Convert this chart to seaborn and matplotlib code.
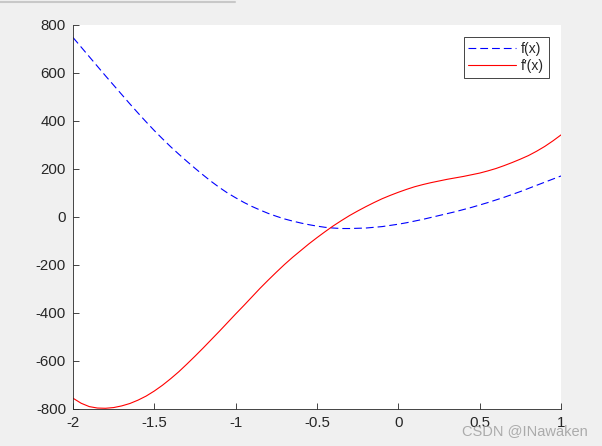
import numpy as np
import matplotlib
matplotlib.use('Agg')
import matplotlib.pyplot as plt
import seaborn as sns
from matplotlib.lines import Line2D

# values, x from -2 to 1 every 0.05
x_vals = [round(-2 + 0.05 * i, 2) for i in range(61)]
f_vals = [748, 708, 668, 628, 588, 549, 510, 471, 433, 396,
          360, 326, 293, 262, 232, 203, 175, 148, 123, 100,
          80, 61, 44, 29, 15, 3, -8, -17, -25, -32,
          -38, -43, -46, -48, -48, -47, -46, -43, -40, -35,
          -30, -24, -17, -10, -2, 6, 14, 22, 31, 40,
          50, 60, 71, 82, 94, 106, 119, 132, 145, 158,
          171]
df_vals = [-755, -776, -790, -796, -797, -794, -787, -777, -763, -746,
           -725, -701, -674, -645, -613, -580, -546, -511, -476, -440,
           -404, -369, -333, -297, -263, -230, -198, -168, -140, -112,
           -86, -61, -37, -15, 6, 25, 43, 60, 76, 90,
           103, 115, 126, 135, 143, 150, 157, 163, 169, 176,
           183, 192, 202, 214, 227, 241, 256, 274, 294, 317,
           342]

x_ticks = [-2, -1.5, -1, -0.5, 0, 0.5, 1]
x_ticklabels = ['-2', '-1.5', '-1', '-0.5', '0', '0.5', '1']
y_ticks = [-800, -600, -400, -200, 0, 200, 400, 600, 800]
y_ticklabels = [str(v) for v in y_ticks]

sns.set_style('ticks')
plt.rcParams['font.family'] = ['Liberation Sans', 'DejaVu Sans']
plt.rcParams['axes.unicode_minus'] = False

fig = plt.figure(figsize=(6.02, 4.46), dpi=100)
fig.patch.set_facecolor('#f0f0f0')
ax = fig.add_axes([73 / 602, 37 / 446, 488 / 602, 384 / 446])
ax.set_facecolor('white')

sns.lineplot(x=x_vals, y=f_vals, ax=ax, color='blue', linewidth=0.8,
             linestyle=(0, (7, 3.6)), label='f(x)')
sns.lineplot(x=x_vals, y=df_vals, ax=ax, color='red', linewidth=0.8,
             label='f\u2032(x)')

ax.set_xlim(-2, 1)
ax.set_ylim(-800, 800)
ax.set_xticks(x_ticks)
ax.set_xticklabels(x_ticklabels)
ax.set_yticks(y_ticks)
ax.set_yticklabels(y_ticklabels)
ax.tick_params(direction='in', length=4, width=0.6, colors='#262626',
               labelsize=10.8, pad=5)
for s in ['top', 'right']:
    ax.spines[s].set_visible(False)
for s in ['left', 'bottom']:
    ax.spines[s].set_color('#262626')
    ax.spines[s].set_linewidth(0.6)

leg = ax.legend(loc='upper right', bbox_to_anchor=(1 - 12 / 488, 1 - 12 / 384),
                borderaxespad=0, fancybox=False, framealpha=1,
                edgecolor='#262626', handlelength=3.4, fontsize=10,
                borderpad=0.35, labelspacing=0.25, handletextpad=0.4)
leg.get_frame().set_linewidth(0.6)

# screenshot artefacts: top strip and watermark
fig.add_artist(Line2D([0, 235 / 602], [1 - 1.5 / 446, 1 - 1.5 / 446],
                      color='#c8c8c8', linewidth=1.5))
fig.text(588 / 602, 8 / 446, 'CSDN @INawaken', ha='right', va='bottom',
         fontsize=10.5, color='#9a9a9a', alpha=0.8)

fig.savefig('out.png', dpi=100, facecolor=fig.get_facecolor())
